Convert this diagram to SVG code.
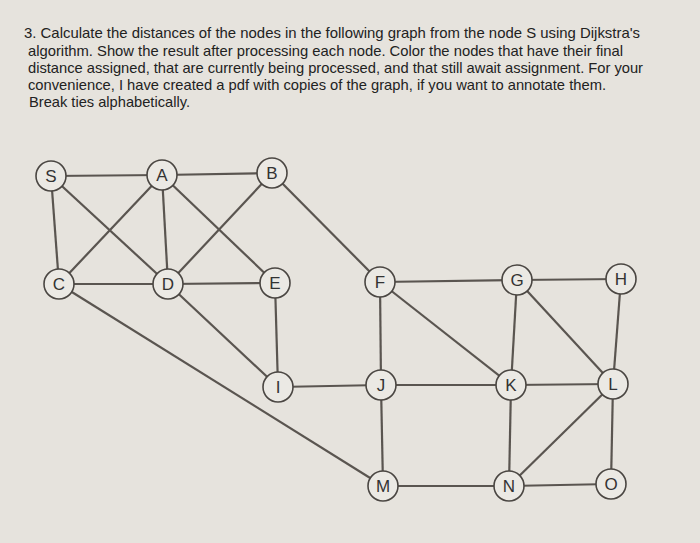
<svg xmlns="http://www.w3.org/2000/svg" width="700" height="543" viewBox="0 0 700 543">
<style>
.t{font-family:"Liberation Sans",Arial,sans-serif;font-size:14.5px;fill:#222}
.e line{stroke:#5a5550;stroke-width:2.2}
.n circle{fill:#ebe9e4;stroke:#4a4642;stroke-width:1.6}
.n text{font-family:"Liberation Sans",Arial,sans-serif;font-size:17px;fill:#333;text-anchor:middle;dominant-baseline:central}
</style>
<rect width="700" height="543" fill="#e6e3dd"/>
<text class="t" x="24" y="38" textLength="616" lengthAdjust="spacingAndGlyphs">3. Calculate the distances of the nodes in the following graph from the node S using Dijkstra's</text>
<text class="t" x="28" y="56" textLength="595" lengthAdjust="spacingAndGlyphs">algorithm.  Show the result after processing each node. Color the nodes that have their final</text>
<text class="t" x="28" y="73" textLength="615" lengthAdjust="spacingAndGlyphs">distance assigned, that are currently being processed, and that still await assignment. For your</text>
<text class="t" x="28" y="90" textLength="578" lengthAdjust="spacingAndGlyphs">convenience, I have created a pdf with copies of the graph, if you want to annotate them.</text>
<text class="t" x="29" y="107" textLength="161" lengthAdjust="spacingAndGlyphs">Break ties alphabetically.</text>
<g class="e">
<line x1="51" y1="176" x2="162" y2="175"/><line x1="162" y1="175" x2="272" y2="173"/>
<line x1="51" y1="176" x2="59" y2="284"/><line x1="51" y1="176" x2="168" y2="284"/>
<line x1="162" y1="175" x2="59" y2="284"/><line x1="162" y1="175" x2="168" y2="284"/>
<line x1="162" y1="175" x2="275" y2="283"/><line x1="272" y1="173" x2="168" y2="284"/>
<line x1="272" y1="173" x2="380" y2="282"/><line x1="59" y1="284" x2="168" y2="284"/>
<line x1="168" y1="284" x2="275" y2="283"/><line x1="59" y1="284" x2="383" y2="486"/>
<line x1="168" y1="284" x2="278" y2="387"/><line x1="275" y1="283" x2="278" y2="387"/>
<line x1="278" y1="387" x2="381" y2="385"/><line x1="380" y1="282" x2="517" y2="280"/>
<line x1="517" y1="280" x2="621" y2="279"/><line x1="380" y1="282" x2="381" y2="385"/>
<line x1="380" y1="282" x2="511" y2="385"/><line x1="517" y1="280" x2="511" y2="385"/>
<line x1="517" y1="280" x2="613" y2="384"/><line x1="621" y1="279" x2="613" y2="384"/>
<line x1="381" y1="385" x2="511" y2="385"/><line x1="511" y1="385" x2="613" y2="384"/>
<line x1="381" y1="385" x2="383" y2="486"/><line x1="511" y1="385" x2="509" y2="486"/>
<line x1="613" y1="384" x2="509" y2="486"/><line x1="613" y1="384" x2="611" y2="484"/>
<line x1="383" y1="486" x2="509" y2="486"/><line x1="509" y1="486" x2="611" y2="484"/>
</g>
<g class="n" id="S"><circle cx="51" cy="176" r="15"/><text x="51" y="176">S</text></g>
<g class="n" id="A"><circle cx="162" cy="175" r="15"/><text x="162" y="175">A</text></g>
<g class="n" id="B"><circle cx="272" cy="173" r="15"/><text x="272" y="173">B</text></g>
<g class="n" id="C"><circle cx="59" cy="284" r="15"/><text x="59" y="284">C</text></g>
<g class="n" id="D"><circle cx="168" cy="284" r="15"/><text x="168" y="284">D</text></g>
<g class="n" id="E"><circle cx="275" cy="283" r="15"/><text x="275" y="283">E</text></g>
<g class="n" id="F"><circle cx="380" cy="282" r="15"/><text x="380" y="282">F</text></g>
<g class="n" id="G"><circle cx="517" cy="280" r="15"/><text x="517" y="280">G</text></g>
<g class="n" id="H"><circle cx="621" cy="279" r="15"/><text x="621" y="279">H</text></g>
<g class="n" id="I"><circle cx="278" cy="387" r="15"/><text x="278" y="387">I</text></g>
<g class="n" id="J"><circle cx="381" cy="385" r="15"/><text x="381" y="385">J</text></g>
<g class="n" id="K"><circle cx="511" cy="385" r="15"/><text x="511" y="385">K</text></g>
<g class="n" id="L"><circle cx="613" cy="384" r="15"/><text x="613" y="384">L</text></g>
<g class="n" id="M"><circle cx="383" cy="486" r="15"/><text x="383" y="486">M</text></g>
<g class="n" id="N"><circle cx="509" cy="486" r="15"/><text x="509" y="486">N</text></g>
<g class="n" id="O"><circle cx="611" cy="484" r="15"/><text x="611" y="484">O</text></g>
</svg>
